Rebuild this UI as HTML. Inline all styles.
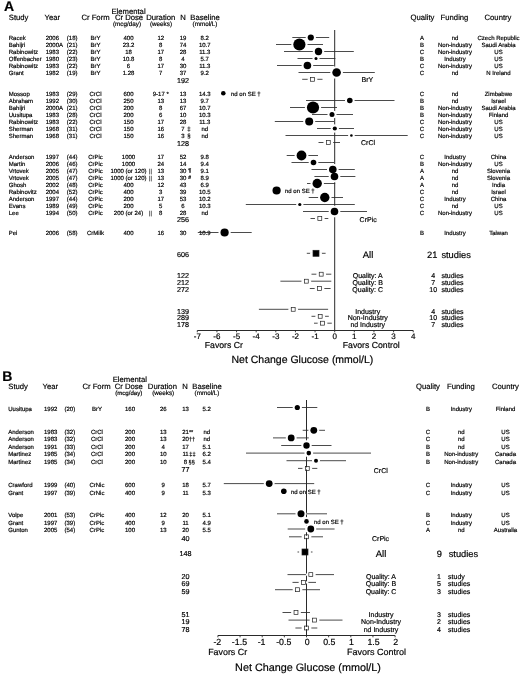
<!DOCTYPE html>
<html><head><meta charset="utf-8"><title>Forest plot</title>
<style>
html,body{margin:0;padding:0;background:#fff;}
body{width:520px;height:675px;overflow:hidden;}
svg{display:block;font-family:"Liberation Sans",sans-serif;fill:#000;}
text{stroke:#000;stroke-width:0.18px;text-rendering:geometricPrecision;}
</style></head><body>
<svg width="520" height="675" viewBox="0 0 520 675">
<rect width="520" height="675" fill="#fff"/>
<text x="4.0" y="10.9" font-size="14" text-anchor="start" font-weight="bold">A</text>
<text x="8.75" y="20.3" font-size="7.7" text-anchor="start">Study</text>
<text x="44.5" y="20.3" font-size="7.7" text-anchor="start">Year</text>
<text x="95.5" y="20.3" font-size="7.7" text-anchor="middle">Cr Form</text>
<text x="128.5" y="14.0" font-size="7.7" text-anchor="middle">Elemental</text>
<text x="129" y="20.3" font-size="7.7" text-anchor="middle">Cr Dose</text>
<text x="127" y="25.8" font-size="6.3" text-anchor="middle">(mcg/day)</text>
<text x="160.75" y="20.3" font-size="7.7" text-anchor="middle">Duration</text>
<text x="161" y="25.8" font-size="6.3" text-anchor="middle">(weeks)</text>
<text x="183" y="20.3" font-size="7.7" text-anchor="middle">N</text>
<text x="205" y="20.3" font-size="7.7" text-anchor="middle">Baseline</text>
<text x="205" y="25.8" font-size="6.3" text-anchor="middle">(mmol/L)</text>
<text x="422.5" y="20.3" font-size="7.7" text-anchor="middle">Quality</text>
<text x="454.5" y="20.3" font-size="7.7" text-anchor="middle">Funding</text>
<text x="498" y="20.3" font-size="7.7" text-anchor="middle">Country</text>
<line x1="334.7" y1="30" x2="334.7" y2="330" stroke="#2a2a2a" stroke-width="1.0"/>
<text x="8.75" y="39.5" font-size="6.0" text-anchor="start">Racek</text>
<text x="45.7" y="39.5" font-size="6.0" text-anchor="start">2006</text>
<text x="66.8" y="39.5" font-size="6.0" text-anchor="start">(18)</text>
<text x="95.5" y="39.5" font-size="6.0" text-anchor="middle">BrY</text>
<text x="128.5" y="39.5" font-size="6.0" text-anchor="middle">400</text>
<text x="160.75" y="39.5" font-size="6.0" text-anchor="middle">12</text>
<text x="183" y="39.5" font-size="6.0" text-anchor="middle">19</text>
<text x="204.75" y="39.5" font-size="6.0" text-anchor="middle">8.2</text>
<text x="422" y="39.5" font-size="6.0" text-anchor="middle">A</text>
<text x="455" y="39.5" font-size="6.0" text-anchor="middle">nd</text>
<text x="498.5" y="39.5" font-size="6.0" text-anchor="middle">Czech Republic</text>
<line x1="292.3" y1="37.5" x2="329.2" y2="37.5" stroke="#2a2a2a" stroke-width="0.85"/>
<rect x="305.70" y="36.40" width="10.20" height="2.2" fill="#fff"/>
<text x="8.75" y="46.5" font-size="6.0" text-anchor="start">Bahijri</text>
<text x="45.7" y="46.5" font-size="6.0" text-anchor="start">2000A</text>
<text x="66.8" y="46.5" font-size="6.0" text-anchor="start">(21)</text>
<text x="95.5" y="46.5" font-size="6.0" text-anchor="middle">BrY</text>
<text x="128.5" y="46.5" font-size="6.0" text-anchor="middle">23.2</text>
<text x="160.75" y="46.5" font-size="6.0" text-anchor="middle">8</text>
<text x="183" y="46.5" font-size="6.0" text-anchor="middle">74</text>
<text x="204.75" y="46.5" font-size="6.0" text-anchor="middle">10.7</text>
<text x="422" y="46.5" font-size="6.0" text-anchor="middle">B</text>
<text x="455" y="46.5" font-size="6.0" text-anchor="middle">Non-industry</text>
<text x="498.5" y="46.5" font-size="6.0" text-anchor="middle">Saudi Arabia</text>
<line x1="276" y1="44.5" x2="323" y2="44.5" stroke="#2a2a2a" stroke-width="0.85"/>
<rect x="291.30" y="43.40" width="16.20" height="2.2" fill="#fff"/>
<text x="8.75" y="53.5" font-size="6.0" text-anchor="start">Rabinowitz</text>
<text x="45.7" y="53.5" font-size="6.0" text-anchor="start">1983</text>
<text x="66.8" y="53.5" font-size="6.0" text-anchor="start">(22)</text>
<text x="95.5" y="53.5" font-size="6.0" text-anchor="middle">BrY</text>
<text x="128.5" y="53.5" font-size="6.0" text-anchor="middle">18</text>
<text x="160.75" y="53.5" font-size="6.0" text-anchor="middle">17</text>
<text x="183" y="53.5" font-size="6.0" text-anchor="middle">28</text>
<text x="204.75" y="53.5" font-size="6.0" text-anchor="middle">11.3</text>
<text x="422" y="53.5" font-size="6.0" text-anchor="middle">C</text>
<text x="455" y="53.5" font-size="6.0" text-anchor="middle">Non-industry</text>
<text x="498.5" y="53.5" font-size="6.0" text-anchor="middle">US</text>
<line x1="284" y1="51.5" x2="353.8" y2="51.5" stroke="#2a2a2a" stroke-width="0.85"/>
<rect x="312.80" y="50.40" width="11.40" height="2.2" fill="#fff"/>
<text x="8.75" y="60.5" font-size="6.0" text-anchor="start">Offenbacher</text>
<text x="45.7" y="60.5" font-size="6.0" text-anchor="start">1980</text>
<text x="66.8" y="60.5" font-size="6.0" text-anchor="start">(23)</text>
<text x="95.5" y="60.5" font-size="6.0" text-anchor="middle">BrY</text>
<text x="128.5" y="60.5" font-size="6.0" text-anchor="middle">10.8</text>
<text x="160.75" y="60.5" font-size="6.0" text-anchor="middle">8</text>
<text x="183" y="60.5" font-size="6.0" text-anchor="middle">4</text>
<text x="204.75" y="60.5" font-size="6.0" text-anchor="middle">5.7</text>
<text x="422" y="60.5" font-size="6.0" text-anchor="middle">B</text>
<text x="455" y="60.5" font-size="6.0" text-anchor="middle">Industry</text>
<text x="498.5" y="60.5" font-size="6.0" text-anchor="middle">US</text>
<line x1="297.5" y1="58.5" x2="335.4" y2="58.5" stroke="#2a2a2a" stroke-width="0.85"/>
<rect x="312.50" y="57.40" width="7.00" height="2.2" fill="#fff"/>
<text x="8.75" y="67.5" font-size="6.0" text-anchor="start">Rabinowitz</text>
<text x="45.7" y="67.5" font-size="6.0" text-anchor="start">1983</text>
<text x="66.8" y="67.5" font-size="6.0" text-anchor="start">(22)</text>
<text x="95.5" y="67.5" font-size="6.0" text-anchor="middle">BrY</text>
<text x="128.5" y="67.5" font-size="6.0" text-anchor="middle">6</text>
<text x="160.75" y="67.5" font-size="6.0" text-anchor="middle">17</text>
<text x="183" y="67.5" font-size="6.0" text-anchor="middle">30</text>
<text x="204.75" y="67.5" font-size="6.0" text-anchor="middle">11.3</text>
<text x="422" y="67.5" font-size="6.0" text-anchor="middle">C</text>
<text x="455" y="67.5" font-size="6.0" text-anchor="middle">Non-industry</text>
<text x="498.5" y="67.5" font-size="6.0" text-anchor="middle">US</text>
<line x1="277" y1="65.5" x2="333.8" y2="65.5" stroke="#2a2a2a" stroke-width="0.85"/>
<rect x="301.60" y="64.40" width="11.60" height="2.2" fill="#fff"/>
<text x="8.75" y="74.5" font-size="6.0" text-anchor="start">Grant</text>
<text x="45.7" y="74.5" font-size="6.0" text-anchor="start">1982</text>
<text x="66.8" y="74.5" font-size="6.0" text-anchor="start">(19)</text>
<text x="95.5" y="74.5" font-size="6.0" text-anchor="middle">BrY</text>
<text x="128.5" y="74.5" font-size="6.0" text-anchor="middle">1.28</text>
<text x="160.75" y="74.5" font-size="6.0" text-anchor="middle">7</text>
<text x="183" y="74.5" font-size="6.0" text-anchor="middle">37</text>
<text x="204.75" y="74.5" font-size="6.0" text-anchor="middle">9.2</text>
<text x="422" y="74.5" font-size="6.0" text-anchor="middle">C</text>
<text x="455" y="74.5" font-size="6.0" text-anchor="middle">nd</text>
<text x="498.5" y="74.5" font-size="6.0" text-anchor="middle">N Ireland</text>
<line x1="298.5" y1="72.5" x2="374.8" y2="72.5" stroke="#2a2a2a" stroke-width="0.85"/>
<rect x="330.30" y="71.40" width="12.60" height="2.2" fill="#fff"/>
<rect x="333.60" y="66.49" width="2.2" height="12.01" fill="#fff"/>
<text x="183" y="82.7" font-size="7.2" text-anchor="middle">192</text>
<line x1="302.2" y1="79.3" x2="322.5" y2="79.3" stroke="#2a2a2a" stroke-width="0.85"/>
<rect x="307.65" y="78.20" width="9.70" height="2.2" fill="#fff"/>
<rect x="310.55" y="77.35" width="3.9" height="3.9" fill="none" stroke="#222" stroke-width="0.7"/>
<text x="361.5" y="81.6" font-size="7" text-anchor="start">BrY</text>
<text x="8.75" y="95.5" font-size="6.0" text-anchor="start">Mossop</text>
<text x="45.7" y="95.5" font-size="6.0" text-anchor="start">1983</text>
<text x="66.8" y="95.5" font-size="6.0" text-anchor="start">(29)</text>
<text x="95.5" y="95.5" font-size="6.0" text-anchor="middle">CrCl</text>
<text x="128.5" y="95.5" font-size="6.0" text-anchor="middle">600</text>
<text x="160.75" y="95.5" font-size="6.0" text-anchor="middle">9-17 *</text>
<text x="183" y="95.5" font-size="6.0" text-anchor="middle">13</text>
<text x="204.75" y="95.5" font-size="6.0" text-anchor="middle">14.3</text>
<text x="422" y="95.5" font-size="6.0" text-anchor="middle">C</text>
<text x="455" y="95.5" font-size="6.0" text-anchor="middle">nd</text>
<text x="498.5" y="95.5" font-size="6.0" text-anchor="middle">Zimbabwe</text>
<text x="8.75" y="102.5" font-size="6.0" text-anchor="start">Abraham</text>
<text x="45.7" y="102.5" font-size="6.0" text-anchor="start">1992</text>
<text x="66.8" y="102.5" font-size="6.0" text-anchor="start">(30)</text>
<text x="95.5" y="102.5" font-size="6.0" text-anchor="middle">CrCl</text>
<text x="128.5" y="102.5" font-size="6.0" text-anchor="middle">250</text>
<text x="160.75" y="102.5" font-size="6.0" text-anchor="middle">13</text>
<text x="183" y="102.5" font-size="6.0" text-anchor="middle">13</text>
<text x="204.75" y="102.5" font-size="6.0" text-anchor="middle">9.7</text>
<text x="422" y="102.5" font-size="6.0" text-anchor="middle">B</text>
<text x="455" y="102.5" font-size="6.0" text-anchor="middle">nd</text>
<text x="498.5" y="102.5" font-size="6.0" text-anchor="middle">Israel</text>
<line x1="306" y1="100.5" x2="394.5" y2="100.5" stroke="#2a2a2a" stroke-width="0.85"/>
<rect x="345.00" y="99.40" width="9.60" height="2.2" fill="#fff"/>
<text x="8.75" y="109.5" font-size="6.0" text-anchor="start">Bahijri</text>
<text x="45.7" y="109.5" font-size="6.0" text-anchor="start">2000A</text>
<text x="66.8" y="109.5" font-size="6.0" text-anchor="start">(21)</text>
<text x="95.5" y="109.5" font-size="6.0" text-anchor="middle">CrCl</text>
<text x="128.5" y="109.5" font-size="6.0" text-anchor="middle">200</text>
<text x="160.75" y="109.5" font-size="6.0" text-anchor="middle">8</text>
<text x="183" y="109.5" font-size="6.0" text-anchor="middle">67</text>
<text x="204.75" y="109.5" font-size="6.0" text-anchor="middle">10.7</text>
<text x="422" y="109.5" font-size="6.0" text-anchor="middle">B</text>
<text x="455" y="109.5" font-size="6.0" text-anchor="middle">Non-industry</text>
<text x="498.5" y="109.5" font-size="6.0" text-anchor="middle">Saudi Arabia</text>
<line x1="290" y1="107.5" x2="337" y2="107.5" stroke="#2a2a2a" stroke-width="0.85"/>
<rect x="304.90" y="106.40" width="16.20" height="2.2" fill="#fff"/>
<text x="8.75" y="116.5" font-size="6.0" text-anchor="start">Uusitupa</text>
<text x="45.7" y="116.5" font-size="6.0" text-anchor="start">1983</text>
<text x="66.8" y="116.5" font-size="6.0" text-anchor="start">(28)</text>
<text x="95.5" y="116.5" font-size="6.0" text-anchor="middle">CrCl</text>
<text x="128.5" y="116.5" font-size="6.0" text-anchor="middle">200</text>
<text x="160.75" y="116.5" font-size="6.0" text-anchor="middle">6</text>
<text x="183" y="116.5" font-size="6.0" text-anchor="middle">10</text>
<text x="204.75" y="116.5" font-size="6.0" text-anchor="middle">10.3</text>
<text x="422" y="116.5" font-size="6.0" text-anchor="middle">B</text>
<text x="455" y="116.5" font-size="6.0" text-anchor="middle">Non-industry</text>
<text x="498.5" y="116.5" font-size="6.0" text-anchor="middle">Finland</text>
<line x1="312" y1="114.5" x2="353" y2="114.5" stroke="#2a2a2a" stroke-width="0.85"/>
<rect x="327.50" y="113.40" width="9.00" height="2.2" fill="#fff"/>
<rect x="333.60" y="110.90" width="2.2" height="7.20" fill="#fff"/>
<text x="8.75" y="123.5" font-size="6.0" text-anchor="start">Rabinowitz</text>
<text x="45.7" y="123.5" font-size="6.0" text-anchor="start">1983</text>
<text x="66.8" y="123.5" font-size="6.0" text-anchor="start">(22)</text>
<text x="95.5" y="123.5" font-size="6.0" text-anchor="middle">CrCl</text>
<text x="128.5" y="123.5" font-size="6.0" text-anchor="middle">150</text>
<text x="160.75" y="123.5" font-size="6.0" text-anchor="middle">17</text>
<text x="183" y="123.5" font-size="6.0" text-anchor="middle">28</text>
<text x="204.75" y="123.5" font-size="6.0" text-anchor="middle">11.3</text>
<text x="422" y="123.5" font-size="6.0" text-anchor="middle">C</text>
<text x="455" y="123.5" font-size="6.0" text-anchor="middle">Non-industry</text>
<text x="498.5" y="123.5" font-size="6.0" text-anchor="middle">US</text>
<line x1="274.8" y1="121.5" x2="334" y2="121.5" stroke="#2a2a2a" stroke-width="0.85"/>
<rect x="303.20" y="120.40" width="12.00" height="2.2" fill="#fff"/>
<text x="8.75" y="130.5" font-size="6.0" text-anchor="start">Sherman</text>
<text x="45.7" y="130.5" font-size="6.0" text-anchor="start">1968</text>
<text x="66.8" y="130.5" font-size="6.0" text-anchor="start">(31)</text>
<text x="95.5" y="130.5" font-size="6.0" text-anchor="middle">CrCl</text>
<text x="128.5" y="130.5" font-size="6.0" text-anchor="middle">150</text>
<text x="160.75" y="130.5" font-size="6.0" text-anchor="middle">16</text>
<text x="183" y="130.5" font-size="6.0" text-anchor="middle">7</text>
<text x="204.75" y="130.5" font-size="6.0" text-anchor="middle">nd</text>
<text x="422" y="130.5" font-size="6.0" text-anchor="middle">C</text>
<text x="455" y="130.5" font-size="6.0" text-anchor="middle">Non-industry</text>
<text x="498.5" y="130.5" font-size="6.0" text-anchor="middle">US</text>
<line x1="317" y1="128.5" x2="354" y2="128.5" stroke="#2a2a2a" stroke-width="0.85"/>
<rect x="330.70" y="127.40" width="8.20" height="2.2" fill="#fff"/>
<rect x="333.60" y="124.40" width="2.2" height="8.20" fill="#fff"/>
<text x="8.75" y="137.5" font-size="6.0" text-anchor="start">Sherman</text>
<text x="45.7" y="137.5" font-size="6.0" text-anchor="start">1968</text>
<text x="66.8" y="137.5" font-size="6.0" text-anchor="start">(31)</text>
<text x="95.5" y="137.5" font-size="6.0" text-anchor="middle">CrCl</text>
<text x="128.5" y="137.5" font-size="6.0" text-anchor="middle">150</text>
<text x="160.75" y="137.5" font-size="6.0" text-anchor="middle">16</text>
<text x="183" y="137.5" font-size="6.0" text-anchor="middle">3</text>
<text x="204.75" y="137.5" font-size="6.0" text-anchor="middle">nd</text>
<text x="422" y="137.5" font-size="6.0" text-anchor="middle">C</text>
<text x="455" y="137.5" font-size="6.0" text-anchor="middle">Non-industry</text>
<text x="498.5" y="137.5" font-size="6.0" text-anchor="middle">US</text>
<line x1="285.5" y1="135.5" x2="407.7" y2="135.5" stroke="#2a2a2a" stroke-width="0.85"/>
<rect x="348.10" y="134.40" width="6.60" height="2.2" fill="#fff"/>
<rect x="219.00" y="92.10" width="8.60" height="2.2" fill="#fff"/>
<text x="231" y="95.5" font-size="6.0" text-anchor="start">nd on SE †</text>
<text x="187.3" y="131.3" font-size="6.0" text-anchor="start">‡</text>
<text x="187.3" y="138.3" font-size="6.0" text-anchor="start">§</text>
<text x="183" y="145.7" font-size="7.2" text-anchor="middle">128</text>
<line x1="318.5" y1="142.5" x2="340" y2="142.5" stroke="#2a2a2a" stroke-width="0.85"/>
<rect x="323.45" y="141.40" width="9.70" height="2.2" fill="#fff"/>
<rect x="326.35" y="140.55" width="3.9" height="3.9" fill="none" stroke="#222" stroke-width="0.7"/>
<text x="361" y="144.6" font-size="7" text-anchor="start">CrCl</text>
<text x="8.75" y="159.0" font-size="6.0" text-anchor="start">Anderson</text>
<text x="45.7" y="159.0" font-size="6.0" text-anchor="start">1997</text>
<text x="66.8" y="159.0" font-size="6.0" text-anchor="start">(44)</text>
<text x="95.5" y="159.0" font-size="6.0" text-anchor="middle">CrPic</text>
<text x="128.5" y="159.0" font-size="6.0" text-anchor="middle">1000</text>
<text x="160.75" y="159.0" font-size="6.0" text-anchor="middle">17</text>
<text x="183" y="159.0" font-size="6.0" text-anchor="middle">52</text>
<text x="204.75" y="159.0" font-size="6.0" text-anchor="middle">9.8</text>
<text x="422" y="159.0" font-size="6.0" text-anchor="middle">C</text>
<text x="455" y="159.0" font-size="6.0" text-anchor="middle">Industry</text>
<text x="498.5" y="159.0" font-size="6.0" text-anchor="middle">China</text>
<line x1="286.7" y1="155.5" x2="318" y2="155.5" stroke="#2a2a2a" stroke-width="0.85"/>
<rect x="294.60" y="154.40" width="13.80" height="2.2" fill="#fff"/>
<text x="8.75" y="166.0" font-size="6.0" text-anchor="start">Martin</text>
<text x="45.7" y="166.0" font-size="6.0" text-anchor="start">2006</text>
<text x="66.8" y="166.0" font-size="6.0" text-anchor="start">(46)</text>
<text x="95.5" y="166.0" font-size="6.0" text-anchor="middle">CrPic</text>
<text x="128.5" y="166.0" font-size="6.0" text-anchor="middle">1000</text>
<text x="160.75" y="166.0" font-size="6.0" text-anchor="middle">24</text>
<text x="183" y="166.0" font-size="6.0" text-anchor="middle">14</text>
<text x="204.75" y="166.0" font-size="6.0" text-anchor="middle">9.4</text>
<text x="422" y="166.0" font-size="6.0" text-anchor="middle">B</text>
<text x="455" y="166.0" font-size="6.0" text-anchor="middle">Non-industry</text>
<text x="498.5" y="166.0" font-size="6.0" text-anchor="middle">US</text>
<line x1="291.5" y1="162.5" x2="334" y2="162.5" stroke="#2a2a2a" stroke-width="0.85"/>
<rect x="308.70" y="161.40" width="9.60" height="2.2" fill="#fff"/>
<text x="8.75" y="173.0" font-size="6.0" text-anchor="start">Vrtovek</text>
<text x="45.7" y="173.0" font-size="6.0" text-anchor="start">2005</text>
<text x="66.8" y="173.0" font-size="6.0" text-anchor="start">(47)</text>
<text x="95.5" y="173.0" font-size="6.0" text-anchor="middle">CrPic</text>
<text x="128.5" y="173.0" font-size="6.0" text-anchor="middle">1000 (or 120)</text>
<text x="160.75" y="173.0" font-size="6.0" text-anchor="middle">13</text>
<text x="183" y="173.0" font-size="6.0" text-anchor="middle">30</text>
<text x="204.75" y="173.0" font-size="6.0" text-anchor="middle">9.1</text>
<text x="422" y="173.0" font-size="6.0" text-anchor="middle">A</text>
<text x="455" y="173.0" font-size="6.0" text-anchor="middle">nd</text>
<text x="498.5" y="173.0" font-size="6.0" text-anchor="middle">Slovenia</text>
<line x1="311.5" y1="169.5" x2="354.8" y2="169.5" stroke="#2a2a2a" stroke-width="0.85"/>
<rect x="327.00" y="168.40" width="11.60" height="2.2" fill="#fff"/>
<rect x="333.60" y="164.02" width="2.2" height="10.96" fill="#fff"/>
<text x="8.75" y="180.0" font-size="6.0" text-anchor="start">Vrtovek</text>
<text x="45.7" y="180.0" font-size="6.0" text-anchor="start">2005</text>
<text x="66.8" y="180.0" font-size="6.0" text-anchor="start">(47)</text>
<text x="95.5" y="180.0" font-size="6.0" text-anchor="middle">CrPic</text>
<text x="128.5" y="180.0" font-size="6.0" text-anchor="middle">1000 (or 120)</text>
<text x="160.75" y="180.0" font-size="6.0" text-anchor="middle">13</text>
<text x="183" y="180.0" font-size="6.0" text-anchor="middle">30</text>
<text x="204.75" y="180.0" font-size="6.0" text-anchor="middle">8.9</text>
<text x="422" y="180.0" font-size="6.0" text-anchor="middle">A</text>
<text x="455" y="180.0" font-size="6.0" text-anchor="middle">nd</text>
<text x="498.5" y="180.0" font-size="6.0" text-anchor="middle">Slovenia</text>
<line x1="314.4" y1="176.5" x2="355.4" y2="176.5" stroke="#2a2a2a" stroke-width="0.85"/>
<rect x="328.70" y="175.40" width="11.60" height="2.2" fill="#fff"/>
<rect x="333.60" y="170.70" width="2.2" height="11.59" fill="#fff"/>
<text x="8.75" y="187.0" font-size="6.0" text-anchor="start">Ghosh</text>
<text x="45.7" y="187.0" font-size="6.0" text-anchor="start">2002</text>
<text x="66.8" y="187.0" font-size="6.0" text-anchor="start">(48)</text>
<text x="95.5" y="187.0" font-size="6.0" text-anchor="middle">CrPic</text>
<text x="128.5" y="187.0" font-size="6.0" text-anchor="middle">400</text>
<text x="160.75" y="187.0" font-size="6.0" text-anchor="middle">12</text>
<text x="183" y="187.0" font-size="6.0" text-anchor="middle">43</text>
<text x="204.75" y="187.0" font-size="6.0" text-anchor="middle">6.9</text>
<text x="422" y="187.0" font-size="6.0" text-anchor="middle">A</text>
<text x="455" y="187.0" font-size="6.0" text-anchor="middle">nd</text>
<text x="498.5" y="187.0" font-size="6.0" text-anchor="middle">India</text>
<line x1="307" y1="183.5" x2="335.2" y2="183.5" stroke="#2a2a2a" stroke-width="0.85"/>
<rect x="310.50" y="182.40" width="13.40" height="2.2" fill="#fff"/>
<text x="8.75" y="194.0" font-size="6.0" text-anchor="start">Rabinovitz</text>
<text x="45.7" y="194.0" font-size="6.0" text-anchor="start">2004</text>
<text x="66.8" y="194.0" font-size="6.0" text-anchor="start">(52)</text>
<text x="95.5" y="194.0" font-size="6.0" text-anchor="middle">CrPic</text>
<text x="128.5" y="194.0" font-size="6.0" text-anchor="middle">400</text>
<text x="160.75" y="194.0" font-size="6.0" text-anchor="middle">3</text>
<text x="183" y="194.0" font-size="6.0" text-anchor="middle">39</text>
<text x="204.75" y="194.0" font-size="6.0" text-anchor="middle">10.5</text>
<text x="422" y="194.0" font-size="6.0" text-anchor="middle">C</text>
<text x="455" y="194.0" font-size="6.0" text-anchor="middle">nd</text>
<text x="498.5" y="194.0" font-size="6.0" text-anchor="middle">Israel</text>
<text x="8.75" y="201.0" font-size="6.0" text-anchor="start">Anderson</text>
<text x="45.7" y="201.0" font-size="6.0" text-anchor="start">1997</text>
<text x="66.8" y="201.0" font-size="6.0" text-anchor="start">(44)</text>
<text x="95.5" y="201.0" font-size="6.0" text-anchor="middle">CrPic</text>
<text x="128.5" y="201.0" font-size="6.0" text-anchor="middle">200</text>
<text x="160.75" y="201.0" font-size="6.0" text-anchor="middle">17</text>
<text x="183" y="201.0" font-size="6.0" text-anchor="middle">53</text>
<text x="204.75" y="201.0" font-size="6.0" text-anchor="middle">10.2</text>
<text x="422" y="201.0" font-size="6.0" text-anchor="middle">C</text>
<text x="455" y="201.0" font-size="6.0" text-anchor="middle">Industry</text>
<text x="498.5" y="201.0" font-size="6.0" text-anchor="middle">China</text>
<line x1="308.7" y1="197.5" x2="343" y2="197.5" stroke="#2a2a2a" stroke-width="0.85"/>
<rect x="318.10" y="196.40" width="13.40" height="2.2" fill="#fff"/>
<text x="8.75" y="208.0" font-size="6.0" text-anchor="start">Evans</text>
<text x="45.7" y="208.0" font-size="6.0" text-anchor="start">1989</text>
<text x="66.8" y="208.0" font-size="6.0" text-anchor="start">(49)</text>
<text x="95.5" y="208.0" font-size="6.0" text-anchor="middle">CrPic</text>
<text x="128.5" y="208.0" font-size="6.0" text-anchor="middle">200</text>
<text x="160.75" y="208.0" font-size="6.0" text-anchor="middle">5</text>
<text x="183" y="208.0" font-size="6.0" text-anchor="middle">6</text>
<text x="204.75" y="208.0" font-size="6.0" text-anchor="middle">10.3</text>
<text x="422" y="208.0" font-size="6.0" text-anchor="middle">C</text>
<text x="455" y="208.0" font-size="6.0" text-anchor="middle">nd</text>
<text x="498.5" y="208.0" font-size="6.0" text-anchor="middle">US</text>
<line x1="245.8" y1="204.5" x2="354.8" y2="204.5" stroke="#2a2a2a" stroke-width="0.85"/>
<rect x="296.20" y="203.40" width="7.20" height="2.2" fill="#fff"/>
<text x="8.75" y="215.0" font-size="6.0" text-anchor="start">Lee</text>
<text x="45.7" y="215.0" font-size="6.0" text-anchor="start">1994</text>
<text x="66.8" y="215.0" font-size="6.0" text-anchor="start">(50)</text>
<text x="95.5" y="215.0" font-size="6.0" text-anchor="middle">CrPic</text>
<text x="128.5" y="215.0" font-size="6.0" text-anchor="middle">200 (or 24)</text>
<text x="160.75" y="215.0" font-size="6.0" text-anchor="middle">8</text>
<text x="183" y="215.0" font-size="6.0" text-anchor="middle">28</text>
<text x="204.75" y="215.0" font-size="6.0" text-anchor="middle">nd</text>
<text x="422" y="215.0" font-size="6.0" text-anchor="middle">C</text>
<text x="455" y="215.0" font-size="6.0" text-anchor="middle">Non-industry</text>
<text x="498.5" y="215.0" font-size="6.0" text-anchor="middle">US</text>
<line x1="303" y1="211.5" x2="367" y2="211.5" stroke="#2a2a2a" stroke-width="0.85"/>
<rect x="328.70" y="210.40" width="11.60" height="2.2" fill="#fff"/>
<rect x="333.60" y="205.70" width="2.2" height="11.59" fill="#fff"/>
<rect x="270.50" y="189.40" width="12.20" height="2.2" fill="#fff"/>
<text x="285" y="193.0" font-size="6.0" text-anchor="start">nd on SE †</text>
<text x="188.3" y="172.2" font-size="5.2" text-anchor="start" font-weight="bold">¶</text>
<text x="188.3" y="179.2" font-size="5.0" text-anchor="start" font-weight="bold">#</text>
<text x="150.5" y="172.7" font-size="5.6" text-anchor="middle" fill="#555" stroke="none">||</text>
<text x="150.5" y="179.7" font-size="5.6" text-anchor="middle" fill="#555" stroke="none">||</text>
<text x="150.5" y="214.7" font-size="5.6" text-anchor="middle" fill="#555" stroke="none">||</text>
<text x="183" y="222.0" font-size="7.2" text-anchor="middle">256</text>
<line x1="310.5" y1="218.5" x2="328.3" y2="218.5" stroke="#2a2a2a" stroke-width="0.85"/>
<rect x="314.95" y="217.40" width="9.70" height="2.2" fill="#fff"/>
<rect x="317.85" y="216.55" width="3.9" height="3.9" fill="none" stroke="#222" stroke-width="0.7"/>
<text x="359.6" y="221.8" font-size="7" text-anchor="start">CrPic</text>
<text x="8.75" y="235.0" font-size="6.0" text-anchor="start">Pei</text>
<text x="45.7" y="235.0" font-size="6.0" text-anchor="start">2006</text>
<text x="66.8" y="235.0" font-size="6.0" text-anchor="start">(58)</text>
<text x="95.5" y="235.0" font-size="6.0" text-anchor="middle">CrMilk</text>
<text x="128.5" y="235.0" font-size="6.0" text-anchor="middle">400</text>
<text x="160.75" y="235.0" font-size="6.0" text-anchor="middle">16</text>
<text x="183" y="235.0" font-size="6.0" text-anchor="middle">30</text>
<text x="204.75" y="235.0" font-size="6.0" text-anchor="middle">10.9</text>
<text x="422" y="235.0" font-size="6.0" text-anchor="middle">B</text>
<text x="455" y="235.0" font-size="6.0" text-anchor="middle">Industry</text>
<text x="498.5" y="235.0" font-size="6.0" text-anchor="middle">Taiwan</text>
<line x1="197.8" y1="232.5" x2="251.7" y2="232.5" stroke="#2a2a2a" stroke-width="0.85"/>
<rect x="218.50" y="231.40" width="12.20" height="2.2" fill="#fff"/>
<text x="183" y="257.0" font-size="7.2" text-anchor="middle">606</text>
<line x1="306.8" y1="253.3" x2="325.6" y2="253.3" stroke="#2a2a2a" stroke-width="0.85"/>
<rect x="310.10" y="252.20" width="11.80" height="2.2" fill="#fff"/>
<rect x="313.00" y="250.30" width="6.0" height="6.0" fill="#000" stroke="#222" stroke-width="0.7"/>
<text x="368" y="258.0" font-size="9.5" text-anchor="middle">All</text>
<text x="432.2" y="258.0" font-size="9.3" text-anchor="middle">21</text>
<text x="441.4" y="258.0" font-size="9.3" text-anchor="start">studies</text>
<text x="183" y="277.9" font-size="7.2" text-anchor="middle">122</text>
<line x1="311.5" y1="274.2" x2="331.3" y2="274.2" stroke="#2a2a2a" stroke-width="0.85"/>
<rect x="316.35" y="273.10" width="9.70" height="2.2" fill="#fff"/>
<rect x="319.25" y="272.25" width="3.9" height="3.9" fill="none" stroke="#222" stroke-width="0.7"/>
<text x="367.7" y="277.9" font-size="7" text-anchor="middle">Quality: A</text>
<text x="433.2" y="277.9" font-size="7" text-anchor="middle">4</text>
<text x="441.4" y="277.9" font-size="7" text-anchor="start">studies</text>
<text x="183" y="284.7" font-size="7.2" text-anchor="middle">212</text>
<line x1="280.4" y1="281.2" x2="331.3" y2="281.2" stroke="#2a2a2a" stroke-width="0.85"/>
<rect x="301.45" y="280.10" width="9.70" height="2.2" fill="#fff"/>
<rect x="304.35" y="279.25" width="3.9" height="3.9" fill="none" stroke="#222" stroke-width="0.7"/>
<text x="367.7" y="284.7" font-size="7" text-anchor="middle">Quality: B</text>
<text x="433.2" y="284.7" font-size="7" text-anchor="middle">7</text>
<text x="441.4" y="284.7" font-size="7" text-anchor="start">studies</text>
<text x="183" y="291.6" font-size="7.2" text-anchor="middle">272</text>
<line x1="309.8" y1="288.5" x2="330.6" y2="288.5" stroke="#2a2a2a" stroke-width="0.85"/>
<rect x="314.65" y="287.40" width="9.70" height="2.2" fill="#fff"/>
<rect x="317.55" y="286.55" width="3.9" height="3.9" fill="none" stroke="#222" stroke-width="0.7"/>
<text x="367.7" y="291.6" font-size="7" text-anchor="middle">Quality: C</text>
<text x="433.2" y="291.6" font-size="7" text-anchor="middle">10</text>
<text x="441.4" y="291.6" font-size="7" text-anchor="start">studies</text>
<text x="183" y="313.5" font-size="7.2" text-anchor="middle">139</text>
<line x1="258.9" y1="309.3" x2="328.1" y2="309.3" stroke="#2a2a2a" stroke-width="0.85"/>
<rect x="288.35" y="308.20" width="9.70" height="2.2" fill="#fff"/>
<rect x="291.25" y="307.35" width="3.9" height="3.9" fill="none" stroke="#222" stroke-width="0.7"/>
<text x="367.7" y="313.5" font-size="7" text-anchor="middle">Industry</text>
<text x="433.2" y="313.5" font-size="7" text-anchor="middle">4</text>
<text x="441.4" y="313.5" font-size="7" text-anchor="start">studies</text>
<text x="183" y="320.3" font-size="7.2" text-anchor="middle">289</text>
<line x1="311.5" y1="316.3" x2="328.8" y2="316.3" stroke="#2a2a2a" stroke-width="0.85"/>
<rect x="315.35" y="315.20" width="9.70" height="2.2" fill="#fff"/>
<rect x="318.25" y="314.35" width="3.9" height="3.9" fill="none" stroke="#222" stroke-width="0.7"/>
<text x="367.7" y="320.3" font-size="7" text-anchor="middle">Non-Industry</text>
<text x="433.2" y="320.3" font-size="7" text-anchor="middle">10</text>
<text x="441.4" y="320.3" font-size="7" text-anchor="start">studies</text>
<text x="183" y="327.1" font-size="7.2" text-anchor="middle">178</text>
<line x1="314" y1="323.2" x2="331.8" y2="323.2" stroke="#2a2a2a" stroke-width="0.85"/>
<rect x="317.65" y="322.10" width="9.70" height="2.2" fill="#fff"/>
<rect x="320.55" y="321.25" width="3.9" height="3.9" fill="none" stroke="#222" stroke-width="0.7"/>
<text x="367.7" y="327.1" font-size="7" text-anchor="middle">nd Industry</text>
<text x="433.2" y="327.1" font-size="7" text-anchor="middle">7</text>
<text x="441.4" y="327.1" font-size="7" text-anchor="start">studies</text>
<line x1="197.29" y1="330.5" x2="413.21999999999997" y2="330.5" stroke="#2a2a2a" stroke-width="1.0"/>
<line x1="197.29" y1="330.5" x2="197.29" y2="332.3" stroke="#2a2a2a" stroke-width="0.9"/>
<text x="197.29" y="339.2" font-size="8" text-anchor="middle">-7</text>
<line x1="216.92" y1="330.5" x2="216.92" y2="332.3" stroke="#2a2a2a" stroke-width="0.9"/>
<text x="216.92" y="339.2" font-size="8" text-anchor="middle">-6</text>
<line x1="236.55" y1="330.5" x2="236.55" y2="332.3" stroke="#2a2a2a" stroke-width="0.9"/>
<text x="236.55" y="339.2" font-size="8" text-anchor="middle">-5</text>
<line x1="256.18" y1="330.5" x2="256.18" y2="332.3" stroke="#2a2a2a" stroke-width="0.9"/>
<text x="256.18" y="339.2" font-size="8" text-anchor="middle">-4</text>
<line x1="275.81" y1="330.5" x2="275.81" y2="332.3" stroke="#2a2a2a" stroke-width="0.9"/>
<text x="275.81" y="339.2" font-size="8" text-anchor="middle">-3</text>
<line x1="295.44" y1="330.5" x2="295.44" y2="332.3" stroke="#2a2a2a" stroke-width="0.9"/>
<text x="295.44" y="339.2" font-size="8" text-anchor="middle">-2</text>
<line x1="315.07" y1="330.5" x2="315.07" y2="332.3" stroke="#2a2a2a" stroke-width="0.9"/>
<text x="315.07" y="339.2" font-size="8" text-anchor="middle">-1</text>
<line x1="334.7" y1="330.5" x2="334.7" y2="332.3" stroke="#2a2a2a" stroke-width="0.9"/>
<text x="334.7" y="339.2" font-size="8" text-anchor="middle">0</text>
<line x1="354.33" y1="330.5" x2="354.33" y2="332.3" stroke="#2a2a2a" stroke-width="0.9"/>
<text x="354.33" y="339.2" font-size="8" text-anchor="middle">1</text>
<line x1="373.96" y1="330.5" x2="373.96" y2="332.3" stroke="#2a2a2a" stroke-width="0.9"/>
<text x="373.96" y="339.2" font-size="8" text-anchor="middle">2</text>
<line x1="393.59" y1="330.5" x2="393.59" y2="332.3" stroke="#2a2a2a" stroke-width="0.9"/>
<text x="393.59" y="339.2" font-size="8" text-anchor="middle">3</text>
<line x1="413.21999999999997" y1="330.5" x2="413.21999999999997" y2="332.3" stroke="#2a2a2a" stroke-width="0.9"/>
<text x="413.21999999999997" y="339.2" font-size="8" text-anchor="middle">4</text>
<text x="204.8" y="348.0" font-size="8.7" text-anchor="start">Favors Cr</text>
<text x="342.8" y="348.0" font-size="8.7" text-anchor="start">Favors Control</text>
<text x="302.4" y="363.2" font-size="10.5" text-anchor="middle">Net Change Glucose (mmol/L)</text>
<text x="2.3" y="380.85" font-size="14" text-anchor="start" font-weight="bold">B</text>
<text x="8.25" y="388.85" font-size="7.7" text-anchor="start">Study</text>
<text x="42.5" y="388.85" font-size="7.7" text-anchor="start">Year</text>
<text x="96.5" y="388.85" font-size="7.7" text-anchor="middle">Cr Form</text>
<text x="129.8" y="381.55" font-size="7.7" text-anchor="middle">Elemental</text>
<text x="128.8" y="388.85" font-size="7.7" text-anchor="middle">Cr Dose</text>
<text x="128.7" y="395.25" font-size="6.1" text-anchor="middle">(mcg/day)</text>
<text x="162.4" y="388.85" font-size="7.7" text-anchor="middle">Duration</text>
<text x="163.2" y="395.25" font-size="6.3" text-anchor="middle">(weeks)</text>
<text x="185" y="388.85" font-size="7.7" text-anchor="middle">N</text>
<text x="207" y="388.85" font-size="7.7" text-anchor="middle">Baseline</text>
<text x="207" y="395.25" font-size="6.3" text-anchor="middle">(mmol/L)</text>
<text x="428" y="388.85" font-size="7.7" text-anchor="middle">Quality</text>
<text x="461" y="388.85" font-size="7.7" text-anchor="middle">Funding</text>
<text x="505.5" y="388.85" font-size="7.7" text-anchor="middle">Country</text>
<line x1="306.5" y1="400" x2="306.5" y2="635.5" stroke="#2a2a2a" stroke-width="1.0"/>
<text x="8.25" y="411.0" font-size="6.0" text-anchor="start">Uusitupa</text>
<text x="44" y="411.0" font-size="6.0" text-anchor="start">1992</text>
<text x="64.5" y="411.0" font-size="6.0" text-anchor="start">(20)</text>
<text x="96.9" y="411.0" font-size="6.0" text-anchor="middle">BrY</text>
<text x="130" y="411.0" font-size="6.0" text-anchor="middle">160</text>
<text x="163.25" y="411.0" font-size="6.0" text-anchor="middle">26</text>
<text x="185.5" y="411.0" font-size="6.0" text-anchor="middle">13</text>
<text x="206.75" y="411.0" font-size="6.0" text-anchor="middle">5.2</text>
<text x="428" y="411.0" font-size="6.0" text-anchor="middle">B</text>
<text x="461.3" y="411.0" font-size="6.0" text-anchor="middle">Industry</text>
<text x="505.5" y="411.0" font-size="6.0" text-anchor="middle">Finland</text>
<line x1="277" y1="407.5" x2="317.3" y2="407.5" stroke="#2a2a2a" stroke-width="0.85"/>
<rect x="292.70" y="406.40" width="9.20" height="2.2" fill="#fff"/>
<text x="8.25" y="433.75" font-size="6.0" text-anchor="start">Anderson</text>
<text x="44" y="433.75" font-size="6.0" text-anchor="start">1983</text>
<text x="64.5" y="433.75" font-size="6.0" text-anchor="start">(32)</text>
<text x="96.9" y="433.75" font-size="6.0" text-anchor="middle">CrCl</text>
<text x="130" y="433.75" font-size="6.0" text-anchor="middle">200</text>
<text x="163.25" y="433.75" font-size="6.0" text-anchor="middle">13</text>
<text x="185.5" y="433.75" font-size="6.0" text-anchor="middle">21</text>
<text x="206.75" y="433.75" font-size="6.0" text-anchor="middle">nd</text>
<text x="428" y="433.75" font-size="6.0" text-anchor="middle">C</text>
<text x="461.3" y="433.75" font-size="6.0" text-anchor="middle">nd</text>
<text x="505.5" y="433.75" font-size="6.0" text-anchor="middle">US</text>
<line x1="302.7" y1="430.3" x2="325" y2="430.3" stroke="#2a2a2a" stroke-width="0.85"/>
<rect x="308.40" y="429.20" width="10.80" height="2.2" fill="#fff"/>
<text x="8.25" y="441.25" font-size="6.0" text-anchor="start">Anderson</text>
<text x="44" y="441.25" font-size="6.0" text-anchor="start">1983</text>
<text x="64.5" y="441.25" font-size="6.0" text-anchor="start">(32)</text>
<text x="96.9" y="441.25" font-size="6.0" text-anchor="middle">CrCl</text>
<text x="130" y="441.25" font-size="6.0" text-anchor="middle">200</text>
<text x="163.25" y="441.25" font-size="6.0" text-anchor="middle">13</text>
<text x="185.5" y="441.25" font-size="6.0" text-anchor="middle">20</text>
<text x="206.75" y="441.25" font-size="6.0" text-anchor="middle">nd</text>
<text x="428" y="441.25" font-size="6.0" text-anchor="middle">C</text>
<text x="461.3" y="441.25" font-size="6.0" text-anchor="middle">nd</text>
<text x="505.5" y="441.25" font-size="6.0" text-anchor="middle">US</text>
<line x1="273" y1="437.90000000000003" x2="308.8" y2="437.90000000000003" stroke="#2a2a2a" stroke-width="0.85"/>
<rect x="285.80" y="436.80" width="10.80" height="2.2" fill="#fff"/>
<text x="8.25" y="448.75" font-size="6.0" text-anchor="start">Anderson</text>
<text x="44" y="448.75" font-size="6.0" text-anchor="start">1991</text>
<text x="64.5" y="448.75" font-size="6.0" text-anchor="start">(33)</text>
<text x="96.9" y="448.75" font-size="6.0" text-anchor="middle">CrCl</text>
<text x="130" y="448.75" font-size="6.0" text-anchor="middle">200</text>
<text x="163.25" y="448.75" font-size="6.0" text-anchor="middle">4</text>
<text x="185.5" y="448.75" font-size="6.0" text-anchor="middle">17</text>
<text x="206.75" y="448.75" font-size="6.0" text-anchor="middle">5.1</text>
<text x="428" y="448.75" font-size="6.0" text-anchor="middle">B</text>
<text x="461.3" y="448.75" font-size="6.0" text-anchor="middle">nd</text>
<text x="505.5" y="448.75" font-size="6.0" text-anchor="middle">US</text>
<line x1="281.2" y1="445.50000000000006" x2="331.5" y2="445.50000000000006" stroke="#2a2a2a" stroke-width="0.85"/>
<rect x="301.30" y="444.40" width="10.40" height="2.2" fill="#fff"/>
<rect x="305.40" y="440.30" width="2.2" height="10.40" fill="#fff"/>
<text x="8.25" y="456.25" font-size="6.0" text-anchor="start">Martinez</text>
<text x="44" y="456.25" font-size="6.0" text-anchor="start">1985</text>
<text x="64.5" y="456.25" font-size="6.0" text-anchor="start">(34)</text>
<text x="96.9" y="456.25" font-size="6.0" text-anchor="middle">CrCl</text>
<text x="130" y="456.25" font-size="6.0" text-anchor="middle">200</text>
<text x="163.25" y="456.25" font-size="6.0" text-anchor="middle">10</text>
<text x="185.5" y="456.25" font-size="6.0" text-anchor="middle">11</text>
<text x="206.75" y="456.25" font-size="6.0" text-anchor="middle">6.2</text>
<text x="428" y="456.25" font-size="6.0" text-anchor="middle">B</text>
<text x="461.3" y="456.25" font-size="6.0" text-anchor="middle">Non-industry</text>
<text x="505.5" y="456.25" font-size="6.0" text-anchor="middle">Canada</text>
<line x1="246" y1="453.1000000000001" x2="371" y2="453.1000000000001" stroke="#2a2a2a" stroke-width="0.85"/>
<rect x="304.50" y="452.00" width="8.60" height="2.2" fill="#fff"/>
<rect x="305.40" y="449.47" width="2.2" height="7.27" fill="#fff"/>
<text x="8.25" y="463.75" font-size="6.0" text-anchor="start">Martinez</text>
<text x="44" y="463.75" font-size="6.0" text-anchor="start">1985</text>
<text x="64.5" y="463.75" font-size="6.0" text-anchor="start">(34)</text>
<text x="96.9" y="463.75" font-size="6.0" text-anchor="middle">CrCl</text>
<text x="130" y="463.75" font-size="6.0" text-anchor="middle">200</text>
<text x="163.25" y="463.75" font-size="6.0" text-anchor="middle">10</text>
<text x="185.5" y="463.75" font-size="6.0" text-anchor="middle">8</text>
<text x="206.75" y="463.75" font-size="6.0" text-anchor="middle">5.4</text>
<text x="428" y="463.75" font-size="6.0" text-anchor="middle">B</text>
<text x="461.3" y="463.75" font-size="6.0" text-anchor="middle">Non-industry</text>
<text x="505.5" y="463.75" font-size="6.0" text-anchor="middle">Canada</text>
<line x1="286.5" y1="460.7000000000001" x2="346" y2="460.7000000000001" stroke="#2a2a2a" stroke-width="0.85"/>
<rect x="312.00" y="459.60" width="8.00" height="2.2" fill="#fff"/>
<text x="188.9" y="434.15" font-size="5.6" text-anchor="start">**</text>
<text x="188.9" y="440.95" font-size="5.6" text-anchor="start">††</text>
<text x="189.3" y="455.95" font-size="5.6" text-anchor="start">‡‡</text>
<text x="188.6" y="463.95" font-size="5.6" text-anchor="start">§§</text>
<text x="185.5" y="472.4" font-size="7.2" text-anchor="middle">77</text>
<line x1="298" y1="468.4" x2="317.3" y2="468.4" stroke="#2a2a2a" stroke-width="0.85"/>
<rect x="302.45" y="467.30" width="9.70" height="2.2" fill="#fff"/>
<rect x="305.35" y="466.45" width="3.9" height="3.9" fill="none" stroke="#222" stroke-width="0.7"/>
<text x="373.8" y="472.5" font-size="7" text-anchor="start">CrCl</text>
<text x="8.25" y="486.6" font-size="6.0" text-anchor="start">Crawford</text>
<text x="44" y="486.6" font-size="6.0" text-anchor="start">1999</text>
<text x="64.5" y="486.6" font-size="6.0" text-anchor="start">(40)</text>
<text x="96.9" y="486.6" font-size="6.0" text-anchor="middle">CrNic</text>
<text x="130" y="486.6" font-size="6.0" text-anchor="middle">600</text>
<text x="163.25" y="486.6" font-size="6.0" text-anchor="middle">9</text>
<text x="185.5" y="486.6" font-size="6.0" text-anchor="middle">18</text>
<text x="206.75" y="486.6" font-size="6.0" text-anchor="middle">5.7</text>
<text x="428" y="486.6" font-size="6.0" text-anchor="middle">C</text>
<text x="461.3" y="486.6" font-size="6.0" text-anchor="middle">Industry</text>
<text x="505.5" y="486.6" font-size="6.0" text-anchor="middle">US</text>
<line x1="223.8" y1="483.6" x2="314.2" y2="483.6" stroke="#2a2a2a" stroke-width="0.85"/>
<rect x="263.80" y="482.50" width="10.80" height="2.2" fill="#fff"/>
<text x="8.25" y="494.5" font-size="6.0" text-anchor="start">Grant</text>
<text x="44" y="494.5" font-size="6.0" text-anchor="start">1997</text>
<text x="64.5" y="494.5" font-size="6.0" text-anchor="start">(39)</text>
<text x="96.9" y="494.5" font-size="6.0" text-anchor="middle">CrNic</text>
<text x="130" y="494.5" font-size="6.0" text-anchor="middle">400</text>
<text x="163.25" y="494.5" font-size="6.0" text-anchor="middle">9</text>
<text x="185.5" y="494.5" font-size="6.0" text-anchor="middle">11</text>
<text x="206.75" y="494.5" font-size="6.0" text-anchor="middle">5.3</text>
<text x="428" y="494.5" font-size="6.0" text-anchor="middle">C</text>
<text x="461.3" y="494.5" font-size="6.0" text-anchor="middle">Industry</text>
<text x="505.5" y="494.5" font-size="6.0" text-anchor="middle">US</text>
<rect x="279.00" y="490.20" width="9.60" height="2.2" fill="#fff"/>
<text x="291" y="493.5" font-size="6.0" text-anchor="start">nd on SE †</text>
<text x="8.25" y="516.9" font-size="6.0" text-anchor="start">Volpe</text>
<text x="44" y="516.9" font-size="6.0" text-anchor="start">2001</text>
<text x="64.5" y="516.9" font-size="6.0" text-anchor="start">(53)</text>
<text x="96.9" y="516.9" font-size="6.0" text-anchor="middle">CrPic</text>
<text x="130" y="516.9" font-size="6.0" text-anchor="middle">400</text>
<text x="163.25" y="516.9" font-size="6.0" text-anchor="middle">12</text>
<text x="185.5" y="516.9" font-size="6.0" text-anchor="middle">20</text>
<text x="206.75" y="516.9" font-size="6.0" text-anchor="middle">5.1</text>
<text x="428" y="516.9" font-size="6.0" text-anchor="middle">B</text>
<text x="461.3" y="516.9" font-size="6.0" text-anchor="middle">Industry</text>
<text x="505.5" y="516.9" font-size="6.0" text-anchor="middle">US</text>
<line x1="277" y1="513.8" x2="327" y2="513.8" stroke="#2a2a2a" stroke-width="0.85"/>
<rect x="295.50" y="512.70" width="11.00" height="2.2" fill="#fff"/>
<text x="8.25" y="524.5" font-size="6.0" text-anchor="start">Grant</text>
<text x="44" y="524.5" font-size="6.0" text-anchor="start">1997</text>
<text x="64.5" y="524.5" font-size="6.0" text-anchor="start">(39)</text>
<text x="96.9" y="524.5" font-size="6.0" text-anchor="middle">CrPic</text>
<text x="130" y="524.5" font-size="6.0" text-anchor="middle">400</text>
<text x="163.25" y="524.5" font-size="6.0" text-anchor="middle">9</text>
<text x="185.5" y="524.5" font-size="6.0" text-anchor="middle">11</text>
<text x="206.75" y="524.5" font-size="6.0" text-anchor="middle">4.9</text>
<text x="428" y="524.5" font-size="6.0" text-anchor="middle">C</text>
<text x="461.3" y="524.5" font-size="6.0" text-anchor="middle">Industry</text>
<text x="505.5" y="524.5" font-size="6.0" text-anchor="middle">US</text>
<text x="8.25" y="532.1" font-size="6.0" text-anchor="start">Gunton</text>
<text x="44" y="532.1" font-size="6.0" text-anchor="start">2005</text>
<text x="64.5" y="532.1" font-size="6.0" text-anchor="start">(54)</text>
<text x="96.9" y="532.1" font-size="6.0" text-anchor="middle">CrPic</text>
<text x="130" y="532.1" font-size="6.0" text-anchor="middle">100</text>
<text x="163.25" y="532.1" font-size="6.0" text-anchor="middle">13</text>
<text x="185.5" y="532.1" font-size="6.0" text-anchor="middle">20</text>
<text x="206.75" y="532.1" font-size="6.0" text-anchor="middle">5.5</text>
<text x="428" y="532.1" font-size="6.0" text-anchor="middle">A</text>
<text x="461.3" y="532.1" font-size="6.0" text-anchor="middle">nd</text>
<text x="505.5" y="532.1" font-size="6.0" text-anchor="middle">Australia</text>
<line x1="287.7" y1="529.0" x2="334.6" y2="529.0" stroke="#2a2a2a" stroke-width="0.85"/>
<rect x="305.40" y="527.90" width="10.80" height="2.2" fill="#fff"/>
<rect x="305.40" y="525.73" width="2.2" height="6.53" fill="#fff"/>
<rect x="302.20" y="520.30" width="8.60" height="2.2" fill="#fff"/>
<rect x="305.40" y="517.10" width="2.2" height="8.60" fill="#fff"/>
<text x="314" y="523.6" font-size="6.0" text-anchor="start">nd on SE †</text>
<text x="185.5" y="541.2" font-size="7.2" text-anchor="middle">40</text>
<line x1="289" y1="536.8" x2="323" y2="536.8" stroke="#2a2a2a" stroke-width="0.85"/>
<rect x="301.65" y="535.70" width="9.70" height="2.2" fill="#fff"/>
<rect x="304.55" y="534.85" width="3.9" height="3.9" fill="none" stroke="#222" stroke-width="0.7"/>
<text x="372" y="540.5" font-size="7" text-anchor="start">CrPic</text>
<text x="185.5" y="555.7" font-size="7.2" text-anchor="middle">148</text>
<line x1="297.5" y1="552" x2="312.5" y2="552" stroke="#2a2a2a" stroke-width="0.85"/>
<rect x="299.10" y="550.90" width="11.80" height="2.2" fill="#fff"/>
<rect x="302.00" y="549.00" width="6.0" height="6.0" fill="#000" stroke="#222" stroke-width="0.7"/>
<text x="381" y="557.0" font-size="9.5" text-anchor="middle">All</text>
<text x="442" y="557.0" font-size="9.3" text-anchor="end">9</text>
<text x="448.7" y="557.0" font-size="9.3" text-anchor="start">studies</text>
<text x="185.5" y="578.8" font-size="7.2" text-anchor="middle">20</text>
<line x1="287.5" y1="574.6" x2="334" y2="574.6" stroke="#2a2a2a" stroke-width="0.85"/>
<rect x="305.95" y="573.50" width="9.70" height="2.2" fill="#fff"/>
<rect x="308.85" y="572.65" width="3.9" height="3.9" fill="none" stroke="#222" stroke-width="0.7"/>
<text x="381" y="578.8" font-size="7" text-anchor="middle">Quality: A</text>
<text x="441" y="578.8" font-size="7" text-anchor="end">1</text>
<text x="448.1" y="578.8" font-size="7" text-anchor="start">study</text>
<text x="185.5" y="586.1" font-size="7.2" text-anchor="middle">69</text>
<line x1="292.5" y1="582.4" x2="316" y2="582.4" stroke="#2a2a2a" stroke-width="0.85"/>
<rect x="298.65" y="581.30" width="9.70" height="2.2" fill="#fff"/>
<rect x="301.55" y="580.45" width="3.9" height="3.9" fill="none" stroke="#222" stroke-width="0.7"/>
<text x="381" y="586.1" font-size="7" text-anchor="middle">Quality: B</text>
<text x="441" y="586.1" font-size="7" text-anchor="end">5</text>
<text x="448.1" y="586.1" font-size="7" text-anchor="start">studies</text>
<text x="185.5" y="593.6" font-size="7.2" text-anchor="middle">59</text>
<line x1="275" y1="589.7" x2="320" y2="589.7" stroke="#2a2a2a" stroke-width="0.85"/>
<rect x="292.65" y="588.60" width="9.70" height="2.2" fill="#fff"/>
<rect x="295.55" y="587.75" width="3.9" height="3.9" fill="none" stroke="#222" stroke-width="0.7"/>
<text x="381" y="593.6" font-size="7" text-anchor="middle">Quality: C</text>
<text x="441" y="593.6" font-size="7" text-anchor="end">3</text>
<text x="448.1" y="593.6" font-size="7" text-anchor="start">studies</text>
<text x="185.5" y="616.8" font-size="7.2" text-anchor="middle">51</text>
<line x1="282.5" y1="612.5" x2="310" y2="612.5" stroke="#2a2a2a" stroke-width="0.85"/>
<rect x="291.15" y="611.40" width="9.70" height="2.2" fill="#fff"/>
<rect x="294.05" y="610.55" width="3.9" height="3.9" fill="none" stroke="#222" stroke-width="0.7"/>
<text x="381" y="616.8" font-size="7" text-anchor="middle">Industry</text>
<text x="441" y="616.8" font-size="7" text-anchor="end">3</text>
<text x="448.1" y="616.8" font-size="7" text-anchor="start">studies</text>
<text x="185.5" y="624.1" font-size="7.2" text-anchor="middle">19</text>
<line x1="288.5" y1="620.1" x2="342.5" y2="620.1" stroke="#2a2a2a" stroke-width="0.85"/>
<rect x="309.65" y="619.00" width="9.70" height="2.2" fill="#fff"/>
<rect x="312.55" y="618.15" width="3.9" height="3.9" fill="none" stroke="#222" stroke-width="0.7"/>
<text x="381" y="624.1" font-size="7" text-anchor="middle">Non-Industry</text>
<text x="441" y="624.1" font-size="7" text-anchor="end">2</text>
<text x="448.1" y="624.1" font-size="7" text-anchor="start">studies</text>
<text x="185.5" y="632.1" font-size="7.2" text-anchor="middle">78</text>
<line x1="295.4" y1="628.0" x2="317.3" y2="628.0" stroke="#2a2a2a" stroke-width="0.85"/>
<rect x="301.65" y="626.90" width="9.70" height="2.2" fill="#fff"/>
<rect x="304.55" y="626.05" width="3.9" height="3.9" fill="none" stroke="#222" stroke-width="0.7"/>
<text x="381" y="632.1" font-size="7" text-anchor="middle">nd Industry</text>
<text x="441" y="632.1" font-size="7" text-anchor="end">4</text>
<text x="448.1" y="632.1" font-size="7" text-anchor="start">studies</text>
<line x1="217.9" y1="635.5" x2="395.1" y2="635.5" stroke="#2a2a2a" stroke-width="1.0"/>
<line x1="217.9" y1="635.5" x2="217.9" y2="637.3" stroke="#2a2a2a" stroke-width="0.9"/>
<text x="217.3" y="645.0" font-size="8.8" text-anchor="middle">-2</text>
<line x1="240.05" y1="635.5" x2="240.05" y2="637.3" stroke="#2a2a2a" stroke-width="0.9"/>
<text x="239.45000000000002" y="645.0" font-size="8.8" text-anchor="middle">-1.5</text>
<line x1="262.2" y1="635.5" x2="262.2" y2="637.3" stroke="#2a2a2a" stroke-width="0.9"/>
<text x="261.59999999999997" y="645.0" font-size="8.8" text-anchor="middle">-1</text>
<line x1="284.35" y1="635.5" x2="284.35" y2="637.3" stroke="#2a2a2a" stroke-width="0.9"/>
<text x="283.75" y="645.0" font-size="8.8" text-anchor="middle">-0.5</text>
<line x1="306.5" y1="635.5" x2="306.5" y2="637.3" stroke="#2a2a2a" stroke-width="0.9"/>
<text x="307.1" y="645.0" font-size="8.8" text-anchor="middle">0</text>
<line x1="328.65" y1="635.5" x2="328.65" y2="637.3" stroke="#2a2a2a" stroke-width="0.9"/>
<text x="329.25" y="645.0" font-size="8.8" text-anchor="middle">0.5</text>
<line x1="350.8" y1="635.5" x2="350.8" y2="637.3" stroke="#2a2a2a" stroke-width="0.9"/>
<text x="351.40000000000003" y="645.0" font-size="8.8" text-anchor="middle">1</text>
<line x1="372.95" y1="635.5" x2="372.95" y2="637.3" stroke="#2a2a2a" stroke-width="0.9"/>
<text x="373.55" y="645.0" font-size="8.8" text-anchor="middle">1.5</text>
<line x1="395.1" y1="635.5" x2="395.1" y2="637.3" stroke="#2a2a2a" stroke-width="0.9"/>
<text x="395.70000000000005" y="645.0" font-size="8.8" text-anchor="middle">2</text>
<text x="208.2" y="654.8" font-size="8.9" text-anchor="start">Favors Cr</text>
<text x="347" y="654.8" font-size="9.0" text-anchor="start">Favors Control</text>
<text x="308" y="671.2" font-size="10.8" text-anchor="middle">Net Change Glucose (mmol/L)</text>
<circle cx="310.8" cy="37.5" r="3.10" fill="#000"/>
<circle cx="299.4" cy="44.5" r="6.10" fill="#000"/>
<circle cx="318.5" cy="51.5" r="3.70" fill="#000"/>
<circle cx="316" cy="58.5" r="1.50" fill="#000"/>
<circle cx="307.4" cy="65.5" r="3.80" fill="#000"/>
<circle cx="336.6" cy="72.5" r="4.30" fill="#000"/>
<circle cx="349.8" cy="100.5" r="2.80" fill="#000"/>
<circle cx="313" cy="107.5" r="6.10" fill="#000"/>
<circle cx="332" cy="114.5" r="2.50" fill="#000"/>
<circle cx="309.2" cy="121.5" r="4.00" fill="#000"/>
<circle cx="334.8" cy="128.5" r="2.10" fill="#000"/>
<circle cx="351.4" cy="135.5" r="1.30" fill="#000"/>
<circle cx="223.3" cy="93.2" r="2.30" fill="#000"/>
<circle cx="301.5" cy="155.5" r="4.90" fill="#000"/>
<circle cx="313.5" cy="162.5" r="2.80" fill="#000"/>
<circle cx="332.8" cy="169.5" r="3.80" fill="#000"/>
<circle cx="334.5" cy="176.5" r="3.80" fill="#000"/>
<circle cx="317.2" cy="183.5" r="4.70" fill="#000"/>
<circle cx="324.8" cy="197.5" r="4.70" fill="#000"/>
<circle cx="299.8" cy="204.5" r="1.60" fill="#000"/>
<circle cx="334.5" cy="211.5" r="3.80" fill="#000"/>
<circle cx="276.6" cy="190.5" r="4.10" fill="#000"/>
<circle cx="224.6" cy="232.5" r="4.10" fill="#000"/>
<circle cx="297.3" cy="407.5" r="2.60" fill="#000"/>
<circle cx="313.8" cy="430.3" r="3.40" fill="#000"/>
<circle cx="291.2" cy="437.90000000000003" r="3.40" fill="#000"/>
<circle cx="306.5" cy="445.50000000000006" r="3.20" fill="#000"/>
<circle cx="308.8" cy="453.1000000000001" r="2.30" fill="#000"/>
<circle cx="316" cy="460.7000000000001" r="2.00" fill="#000"/>
<circle cx="269.2" cy="483.6" r="3.40" fill="#000"/>
<circle cx="283.8" cy="491.3" r="2.80" fill="#000"/>
<circle cx="301" cy="513.8" r="3.50" fill="#000"/>
<circle cx="310.8" cy="529.0" r="3.40" fill="#000"/>
<circle cx="306.5" cy="521.4" r="2.30" fill="#000"/>
</svg>
</body></html>
